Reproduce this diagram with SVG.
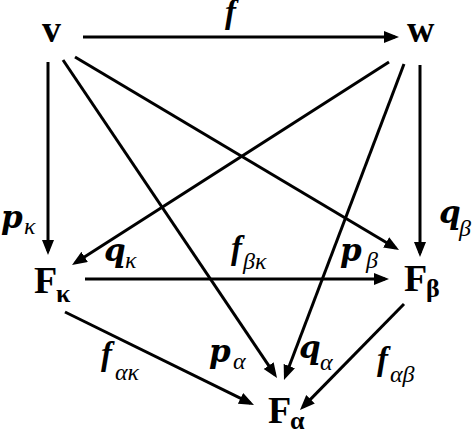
<svg xmlns="http://www.w3.org/2000/svg" width="474" height="433" viewBox="0 0 474 433">
<defs>
<marker id="ah" markerUnits="userSpaceOnUse" markerWidth="16" markerHeight="13" refX="11" refY="6" orient="auto">
<path d="M0,0 L15,6 L0,12 z" fill="#000"/>
</marker>
<style>
.e{stroke:#000;stroke-width:3;fill:none;marker-end:url(#ah)}
.n{font-family:"Liberation Serif","Times New Roman",serif;font-weight:bold;font-size:38px;fill:#000}
.ns{font-family:"Liberation Serif","Times New Roman",serif;font-weight:bold;font-size:26px;fill:#000}
.l{font-family:"Liberation Serif","Times New Roman",serif;font-weight:bold;font-style:italic;font-size:33px;fill:#000}
.lp{font-family:"DejaVu Serif","Liberation Serif",serif;font-weight:bold;font-style:italic;font-size:31px;fill:#000}
.ls{font-family:"Liberation Serif","Times New Roman",serif;font-style:italic;font-size:24px;fill:#000}
</style>
</defs>
<rect width="474" height="433" fill="#fff"/>
<g id="connectors">
<line class="e" x1="83" y1="37" x2="395" y2="37"/>
<line class="e" x1="48" y1="62" x2="48" y2="251"/>
<line class="e" x1="63" y1="60" x2="274.8" y2="374.7"/>
<line class="e" x1="75" y1="57" x2="395.6" y2="248"/>
<line class="e" x1="389" y1="62" x2="75.4" y2="262.8"/>
<line class="e" x1="404" y1="64" x2="285.4" y2="376.3"/>
<line class="e" x1="420" y1="65" x2="420" y2="253"/>
<line class="e" x1="85" y1="279" x2="385" y2="279"/>
<line class="e" x1="65" y1="312" x2="250.4" y2="403.2"/>
<line class="e" x1="404" y1="304" x2="302.8" y2="407.1"/>
</g>
<g id="edge-labels">
<text class="l" x="225" y="23">f</text>
<text class="lp" x="1" y="228">p</text><text class="ls" x="24" y="234">κ</text>
<text class="lp" x="104" y="261">q</text><text class="ls" x="125" y="268">κ</text>
<text class="l" x="231" y="259">f</text><text class="ls" x="243" y="269">βκ</text>
<text class="lp" x="340" y="261">p</text><text class="ls" x="366" y="268">β</text>
<text class="lp" x="439" y="223">q</text><text class="ls" x="459" y="236">β</text>
<text class="l" x="101" y="365">f</text><text class="ls" x="115" y="380">ακ</text>
<text class="lp" x="209" y="362">p</text><text class="ls" x="233" y="369">α</text>
<text class="lp" x="299" y="358">q</text><text class="ls" x="320" y="370">α</text>
<text class="l" x="377" y="370">f</text><text class="ls" x="390" y="382">αβ</text>
</g>
<g id="node-v"><text class="n" x="42" y="42">v</text></g>
<g id="node-w"><text class="n" x="407" y="42">w</text></g>
<g id="node-Fk"><text class="n" x="34" y="293">F</text><text class="ns" x="56" y="302">κ</text></g>
<g id="node-Fb"><text class="n" x="404" y="291">F</text><text class="ns" x="426" y="297">β</text></g>
<g id="node-Fa"><text class="n" x="268" y="423">F</text><text class="ns" x="290" y="429">α</text></g>
</svg>
